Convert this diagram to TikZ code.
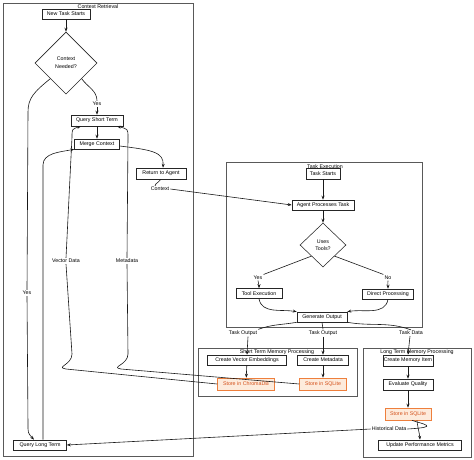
\documentclass[tikz,border=0pt]{standalone}
\usepackage{fontspec}
\setmainfont{Liberation Sans}
\usetikzlibrary{shapes.geometric,arrows.meta}
\definecolor{orangeline}{HTML}{EE7F3C}
\definecolor{orangefill}{HTML}{FDEBDC}
\definecolor{orangetext}{HTML}{D4501A}
\tikzset{
  fs/.style={font=\fontsize{5.3}{6}\selectfont},
  box/.style={fs, draw=black!85, fill=white, line width=0.55pt, inner sep=1pt, minimum height=10pt},
  obox/.style={box, draw=orangeline, fill=orangefill, text=orangetext, minimum height=12pt},
  dia/.style={fs, shape=diamond, draw=black!85, fill=white, line width=0.55pt, inner sep=0pt, align=center},
  cluster/.style={draw=black!65, fill=white, line width=0.6pt},
  clabel/.style={fs, inner sep=0.5pt},
  elabel/.style={fs, inner sep=1pt},
  arr/.style={draw=black!90, line width=0.6pt, -{Stealth[length=4pt,width=3pt]}},
  ln/.style={draw=black!90, line width=0.6pt}
}
\begin{document}
\begin{tikzpicture}[x=1pt,y=-1pt]
\useasboundingbox (0,0) rectangle (474,459);
\fill[white] (0,0) rectangle (474,459);
% clusters
\draw[cluster] (3,3) rectangle (193,456);
\node[clabel] (lcr) at (98,7) {Context Retrieval};
\draw[cluster] (226,162) rectangle (422,327);
\node[clabel] (lte) at (325,166.5) {Task Execution};
\draw[cluster] (198,348) rectangle (357,396);
\node[clabel] (lst) at (277,352.5) {Short Term Memory Processing};
\draw[cluster] (363,348) rectangle (471,457);
\node[clabel] (llt) at (417,352.5) {Long Term Memory Processing};

% context retrieval nodes
\node[box, minimum width=48pt] (nts) at (66,14) {New Task Starts};
\node[dia, minimum width=62pt, minimum height=62pt] (cn) at (66,63) {Context\\[2pt]Needed?};
\node[box, minimum width=52pt, minimum height=11pt] (qst) at (97,120.5) {Query Short Term};
\node[box, minimum width=45pt] (mc) at (97,144) {Merge Context};
\node[box, minimum width=50pt, minimum height=11pt] (rta) at (161,173.5) {Return to Agent};
\node[box, minimum width=53pt] (qlt) at (40,445) {Query Long Term};

% task execution nodes
\node[box, minimum width=34pt, minimum height=11pt] (ts) at (323,173.5) {Task Starts};
\node[box, minimum width=62pt] (apt) at (323,205) {Agent Processes Task};
\node[dia, minimum width=46pt, minimum height=44pt] (ut) at (323,245) {Uses\\[1pt]Tools?};
\node[box, minimum width=46pt] (te) at (259,293.5) {Tool Execution};
\node[box, minimum width=51pt] (dp) at (388,294) {Direct Processing};
\node[box, minimum width=50pt] (go) at (322,317) {Generate Output};

% short term memory
\node[box, minimum width=79pt] (cve) at (247,360) {Create Vector Embeddings};
\node[box, minimum width=51pt] (cmd) at (323,360) {Create Metadata};
\node[obox, minimum width=57pt] (sc) at (246,384) {Store in ChromaDB};
\node[obox, minimum width=47pt] (ss) at (323,384) {Store in SQLite};

% long term memory
\node[box, minimum width=50pt, minimum height=11pt] (cmi) at (408,360.5) {Create Memory Item};
\node[box, minimum width=50pt, minimum height=11pt] (eq) at (408,384.5) {Evaluate Quality};
\node[obox, minimum width=46pt] (ss2) at (408,414) {Store in SQLite};
\node[box, minimum width=83pt] (upm) at (420,445) {Update Performance Metrics};

% edge labels
\node[elabel] (y1) at (97,104) {Yes};
\node[elabel] (y0) at (27,293) {Yes};
\node[elabel] (vd) at (66,261) {Vector Data};
\node[elabel] (md) at (127,261) {Metadata};
\node[elabel] (ctx) at (160,189) {Context};
\node[elabel] (y2) at (258,277.5) {Yes};
\node[elabel] (no) at (388,277.5) {No};
\node[elabel] (to1) at (243,333) {Task Output};
\node[elabel] (to2) at (323,333) {Task Output};
\node[elabel] (tdl) at (411,333) {Task Data};
\node[elabel] (hd) at (389,429) {Historical Data};

% edges: context retrieval
\draw[arr] (nts) -- (cn);
\draw[ln] (cn.south east) to[out=-55,in=90] (y1.north);
\draw[arr] (y1.south) -- (qst.north);
\draw[ln] (cn.south west) .. controls (34,92) and (28,98) .. (28,112) -- (y0.north);
\draw[arr] (y0.south) -- (28,425) .. controls (28,433) .. ([xshift=-6pt]qlt.north);
\draw[arr] (qst) -- (mc);
\draw[arr] ([xshift=3pt]qlt.north) -- (43,165) .. controls (43,153) and (60,152) .. (mc.south west);
\draw[arr] ([yshift=-2pt]mc.east) .. controls (152,150) and (164,152) .. ([xshift=2pt]rta.north);
\draw[ln] (rta.south) to[out=-115,in=80] ([xshift=-5pt]ctx.north);
\draw[arr] (ctx.east) -- (apt.west);
\draw[ln] (sc.west) -- (66,369) .. controls (55,367) and (72,365) .. (72,354) -- (vd.south);
\draw[arr] (vd.north) -- (72,137) .. controls (72,129) .. ([xshift=-16pt]qst.south);
\draw[ln] (ss.west) -- (121,369) .. controls (110,367) and (128,365) .. (128,354) -- (md.south);
\draw[arr] (md.north) -- (128,137) .. controls (128,129) .. ([xshift=20pt]qst.south);

% edges: task execution
\draw[arr] (ts) -- (apt);
\draw[arr] (apt) -- (ut);
\draw[ln] (ut.south west) -- (y2.north east);
\draw[arr] (y2.south) to[out=-80,in=90] (te.north);
\draw[ln] (ut.south east) -- (no.north west);
\draw[arr] (no.south) to[out=-100,in=90] (dp.north);
\draw[arr] (te.south) to[out=-80,in=170] (go.north west);
\draw[arr] (dp.south) to[out=-100,in=10] (go.north east);
\draw[ln] (go.south west) to[out=190,in=20] (to1.north east);
\draw[arr] (to1.south) ++(5,0) -- (cve.north);
\draw[ln] (go.south) -- (to2.north);
\draw[arr] (to2.south) -- (cmd.north);
\draw[ln] (go.south east) to[out=-10,in=160] (tdl.north);
\draw[arr] (tdl.south) ++(-1,0) -- (cmi.north);

% edges: memory
\draw[arr] (cve) -- (sc);
\draw[arr] (cmd) -- (ss);
\draw[arr] (cmi) -- (eq);
\draw[arr] (eq) -- (ss2);
\draw[arr] ([xshift=9pt]ss2.south) to[out=-85,in=95] (upm.north);
\draw[ln] ([xshift=4pt]ss2.south) .. controls (422,424) and (442,427) .. (hd.east);
\draw[arr] (hd.west) -- (qlt.east);
\end{tikzpicture}
\end{document}
